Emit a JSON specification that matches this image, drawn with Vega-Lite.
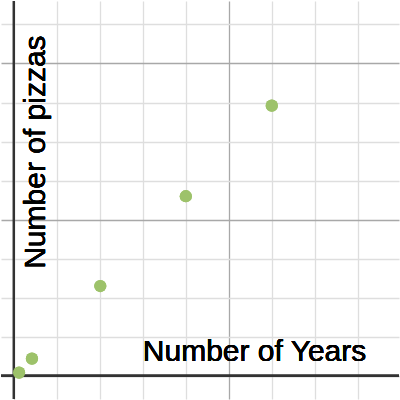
{
  "$schema": "https://vega.github.io/schema/vega-lite/v6.json",
  "width": 400,
  "height": 400,
  "autosize": {"type": "fit", "contains": "padding"},
  "padding": 0,
  "background": "white",
  "config": {
    "view": {"stroke": null},
    "axis": {
      "domain": false,
      "labels": false,
      "ticks": false,
      "title": null,
      "gridWidth": 1.3
    }
  },
  "data": {
    "values": [
      {"years": 0.12, "pizzas": 0.4},
      {"years": 0.42, "pizzas": 2.2},
      {"years": 2.01, "pizzas": 11.5},
      {"years": 4.0, "pizzas": 23.0},
      {"years": 6.0, "pizzas": 34.6}
    ]
  },
  "layer": [
    {
      "mark": {"type": "point", "filled": true, "size": 150, "color": "#9dc26a", "opacity": 1},
      "encoding": {
        "x": {
          "field": "years",
          "type": "quantitative",
          "scale": {"domain": [-0.3, 8.96], "nice": false, "zero": false},
          "axis": {
            "values": [0, 1, 2, 3, 4, 5, 6, 7, 8],
            "gridColor": {"condition": {"test": "datum.value % 5 === 0", "value": "#a8a8a8"}, "value": "#dedede"}
          }
        },
        "y": {
          "field": "pizzas",
          "type": "quantitative",
          "scale": {"domain": [-2.97, 48], "nice": false, "zero": false},
          "axis": {
            "values": [0, 5, 10, 15, 20, 25, 30, 35, 40, 45],
            "gridColor": {"condition": {"test": "datum.value % 20 === 0", "value": "#a8a8a8"}, "value": "#dedede"}
          }
        }
      }
    },
    {
      "mark": {"type": "rule", "color": "#333333", "strokeWidth": 2},
      "encoding": {"x": {"datum": 0}}
    },
    {
      "mark": {"type": "rule", "color": "#333333", "strokeWidth": 2},
      "encoding": {"y": {"datum": 0}}
    },
    {
      "mark": {"type": "point", "filled": true, "size": 150, "color": "#9dc26a", "opacity": 1},
      "encoding": {
        "x": {"field": "years", "type": "quantitative"},
        "y": {"field": "pizzas", "type": "quantitative"}
      }
    },
    {
      "mark": {"type": "text", "font": "Liberation Sans", "fontSize": 30, "color": "#000000", "align": "left", "baseline": "alphabetic", "angle": 270},
      "encoding": {
        "x": {"datum": 0.72},
        "y": {"datum": 13.7},
        "text": {"value": "Number of pizzas"}
      }
    },
    {
      "mark": {"type": "text", "font": "Liberation Sans", "fontSize": 30, "color": "#000000", "align": "left", "baseline": "alphabetic"},
      "encoding": {
        "x": {"datum": 3.0},
        "y": {"datum": 1.91},
        "text": {"value": "Number of Years"}
      }
    }
  ]
}
